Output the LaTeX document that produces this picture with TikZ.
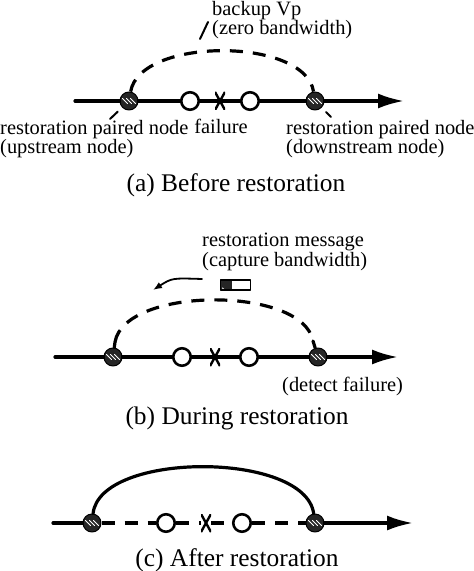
\documentclass[tikz,border=0pt]{standalone}
\usepackage{fontspec}
\setmainfont{Liberation Serif}
\usetikzlibrary{arrows.meta}
\tikzset{
every picture/.style={line cap=round,line join=round},
>={Latex[length=26bp,width=15bp]},
path line/.style={draw=black, line width=3.2bp},
backup line/.style={path line, line cap=butt, dash pattern=on 13bp off 10bp},
leader line/.style={draw=black, line width=2bp},
paired node/.style={
  circle, draw=black, fill=black!85, line width=1bp,
  minimum size=18bp, inner sep=0pt,
  path picture={\foreach \k in {-4,0,4}
    \draw[white, line width=0.9bp] ([shift={(\k-2.5,-2.5)}]path picture bounding box.center) -- ++(5,5);}
},
relay node/.style={circle, draw=black, fill=white, line width=2.6bp, minimum size=17.5bp, inner sep=0pt},
failure mark/.style={
  rectangle, minimum width=10bp, minimum height=18bp, inner sep=0pt,
  path picture={\draw[line width=2.4bp, line cap=butt]
    (path picture bounding box.north west) -- (path picture bounding box.south east)
    (path picture bounding box.north east) -- (path picture bounding box.south west);}
},
msg box/.style={
  rectangle, draw=black, fill=white, line width=1.6bp,
  minimum width=30bp, minimum height=10bp, inner sep=0pt,
  path picture={\fill[black!85] (path picture bounding box.north west) rectangle ([xshift=11bp]path picture bounding box.south west);
    \draw[white, line width=0.8bp] ([shift={(2,-2)}]path picture bounding box.south west) -- ++(5,5);}
},
msg arrow/.style={draw=black, line width=1.8bp, -{Latex[length=9bp,width=7bp]}},
fig label/.style={font=\fontsize{20.5}{19.5}\selectfont, align=left, inner sep=0pt},
fig caption/.style={font=\fontsize{25.5}{28}\selectfont, inner sep=0pt}
}

\begin{document}
\begin{tikzpicture}[x=1bp,y=-1bp]
\useasboundingbox (0,0) rectangle (474,571);

% (a) before restoration
\coordinate (a-s) at (75,101);
\coordinate (a-e) at (404,101);
\node[paired node] (a-u) at (129,101) {};
\node[relay node] (a-c1) at (190,101) {};
\node[failure mark] (a-f) at (220,101) {};
\node[relay node] (a-c2) at (250,101) {};
\node[paired node] (a-d) at (315,101) {};
\foreach \p/\q in {a-s/a-u, a-u/a-c1, a-c1/a-f.center, a-f.center/a-c2, a-c2/a-d}
  \draw[path line] (\p) -- (\q);
\draw[path line,->] (a-d) -- (a-e);
\draw[backup line] (a-u) .. controls (140,37) and (305,37) .. (a-d);
\coordinate (a-ut) at (110,119);
\coordinate (a-dt) at (331,117);
\draw[leader line, shorten <=6bp] (a-u) -- (a-ut);
\draw[leader line, shorten <=6bp] (a-d) -- (a-dt);
\coordinate (a-bs) at (200,39);
\coordinate (a-bt) at (208,22);
\draw[leader line] (a-bs) -- (a-bt);
\node[fig label, anchor=west] (a-bk) at (212,20) {backup Vp\\(zero bandwidth)};
\node[fig label, anchor=west] (a-ul) at (0,139) {restoration paired node\\(upstream node)};
\node[fig label, anchor=west] (a-dl) at (286,139) {restoration paired node\\(downstream node)};
\node[fig label] (a-fl) at (221,126) {failure};
\node[fig caption] (a-cap) at (236,185) {(a) Before restoration};

% (b) during restoration
\coordinate (b-s) at (55,357);
\coordinate (b-e) at (398,357);
\node[paired node] (b-u) at (113,357) {};
\node[relay node] (b-c1) at (182,357) {};
\node[failure mark] (b-f) at (215,357) {};
\node[relay node] (b-c2) at (249,357) {};
\node[paired node] (b-d) at (318,357) {};
\foreach \p/\q in {b-s/b-u, b-u/b-c1, b-c1/b-f.center, b-f.center/b-c2, b-c2/b-d}
  \draw[path line] (\p) -- (\q);
\draw[path line,->] (b-d) -- (b-e);
\coordinate (b-ua) at (115,342);
\coordinate (b-da) at (313,341);
\draw[path line] (b-u) -- (b-ua);
\draw[path line] (b-d) -- (b-da);
\draw[backup line] (b-ua) .. controls (125,286) and (303,286) .. (b-da);
\node[fig label, anchor=west] (b-ml) at (202,252) {restoration message\\(capture bandwidth)};
\node[msg box] (b-msg) at (235.5,285) {};
\coordinate (b-mt) at (202,279);
\coordinate (b-mh) at (153,290);
\draw[msg arrow] (b-mt) .. controls (172,278) .. (b-mh);
\node[fig label, anchor=west] (b-dl) at (282,386) {(detect failure)};
\node[fig caption] (b-cap) at (237,418) {(b) During restoration};

% (c) after restoration
\coordinate (c-s) at (53,523);
\coordinate (c-e) at (413,523);
\node[paired node] (c-u) at (92,523) {};
\node[relay node] (c-c1) at (166,523) {};
\node[failure mark] (c-f) at (206,523) {};
\node[relay node] (c-c2) at (242,523) {};
\node[paired node] (c-d) at (315,523) {};
\draw[path line] (c-s) -- (c-u);
\foreach \p/\q in {c-u/c-c1, c-c1/c-f, c-f/c-c2, c-c2/c-d}
  \draw[backup line] (\p) -- (\q);
\draw[path line,->] (c-d) -- (c-e);
\draw[path line] (c-u) .. controls (100,451) and (305,451) .. (c-d);
\node[fig caption] (c-cap) at (237,560) {(c) After restoration};
\end{tikzpicture}
\end{document}
